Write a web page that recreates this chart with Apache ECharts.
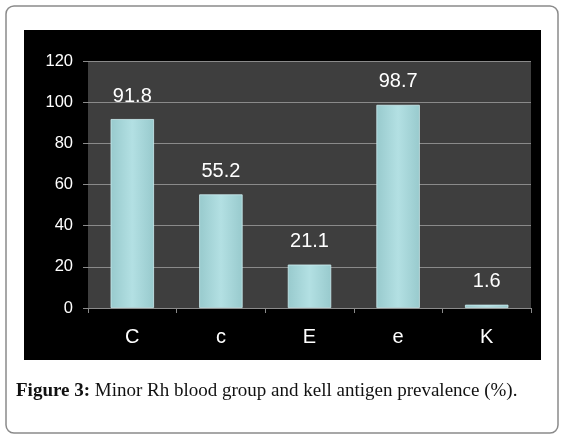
<!DOCTYPE html>
<html>
<head>
<meta charset="utf-8">
<script src="https://cdn.jsdelivr.net/npm/echarts@6/dist/echarts.min.js"></script>
<style>
  html, body { margin: 0; padding: 0; background: #fff; }
  #chart { width: 563px; height: 439px; }
</style>
</head>
<body>
<div id="chart"></div>
<script>
// Data
const antigens = ['C', 'c', 'E', 'e', 'K'];
const prevalence = [91.8, 55.2, 21.1, 98.7, 1.6];
const yTicks = [0, 20, 40, 60, 80, 100, 120];

const chart = echarts.init(document.getElementById('chart'));

const barFill = new echarts.graphic.LinearGradient(0, 0, 1, 0, [
  { offset: 0, color: '#98cacd' },
  { offset: 0.5, color: '#b3e0e3' },
  { offset: 1, color: '#98cacd' }
]);

const option = {
  backgroundColor: '#fff',
  animation: false,
  graphic: [
    // outer rounded frame
    { type: 'rect', shape: { x: 6, y: 6, width: 552, height: 427, r: 8 },
      style: { fill: '#fff', stroke: '#8a8a8a', lineWidth: 1.5 }, z: -10 },
    // black chart box
    { type: 'rect', shape: { x: 24, y: 30, width: 517, height: 330 },
      style: { fill: '#000' }, z: -9 },
    // caption
    { type: 'text', left: 16, top: 382, z: 10,
      style: {
        text: '{b|Figure 3:} Minor Rh blood group and kell antigen prevalence (%).',
        rich: {
          b: { fontFamily: 'Liberation Serif', fontSize: 19, fontWeight: 'bold', fill: '#111' }
        },
        fontFamily: 'Liberation Serif', fontSize: 19, fill: '#111'
      } }
  ],
  grid: {
    left: 88, right: 32, top: 61, bottom: 131,
    show: true, backgroundColor: '#3e3e3e', borderWidth: 0
  },
  xAxis: {
    type: 'category',
    data: antigens,
    axisLine: { lineStyle: { color: '#8a8a8a', width: 1 } },
    axisTick: { show: true, length: 5, lineStyle: { color: '#8a8a8a' } },
    axisLabel: { color: '#fff', fontFamily: 'Liberation Sans', fontSize: 20, margin: 19 }
  },
  yAxis: {
    type: 'value',
    min: yTicks[0], max: yTicks[yTicks.length - 1], interval: 20,
    axisLine: { show: false },
    axisTick: { show: true, length: 5, lineStyle: { color: '#8a8a8a' } },
    axisLabel: { color: '#fff', fontFamily: 'Liberation Sans', fontSize: 16.5, margin: 15 },
    splitLine: { lineStyle: { color: '#8a8a8a', width: 1 } }
  },
  series: [{
    type: 'bar',
    data: prevalence,
    barWidth: '49%',
    itemStyle: { color: barFill, borderColor: '#cdeef0', borderWidth: 0.8 },
    label: {
      show: true, position: 'top', distance: 13,
      color: '#fff', fontFamily: 'Liberation Sans', fontSize: 20
    }
  }]
};
chart.setOption(option);
</script>
</body>
</html>
